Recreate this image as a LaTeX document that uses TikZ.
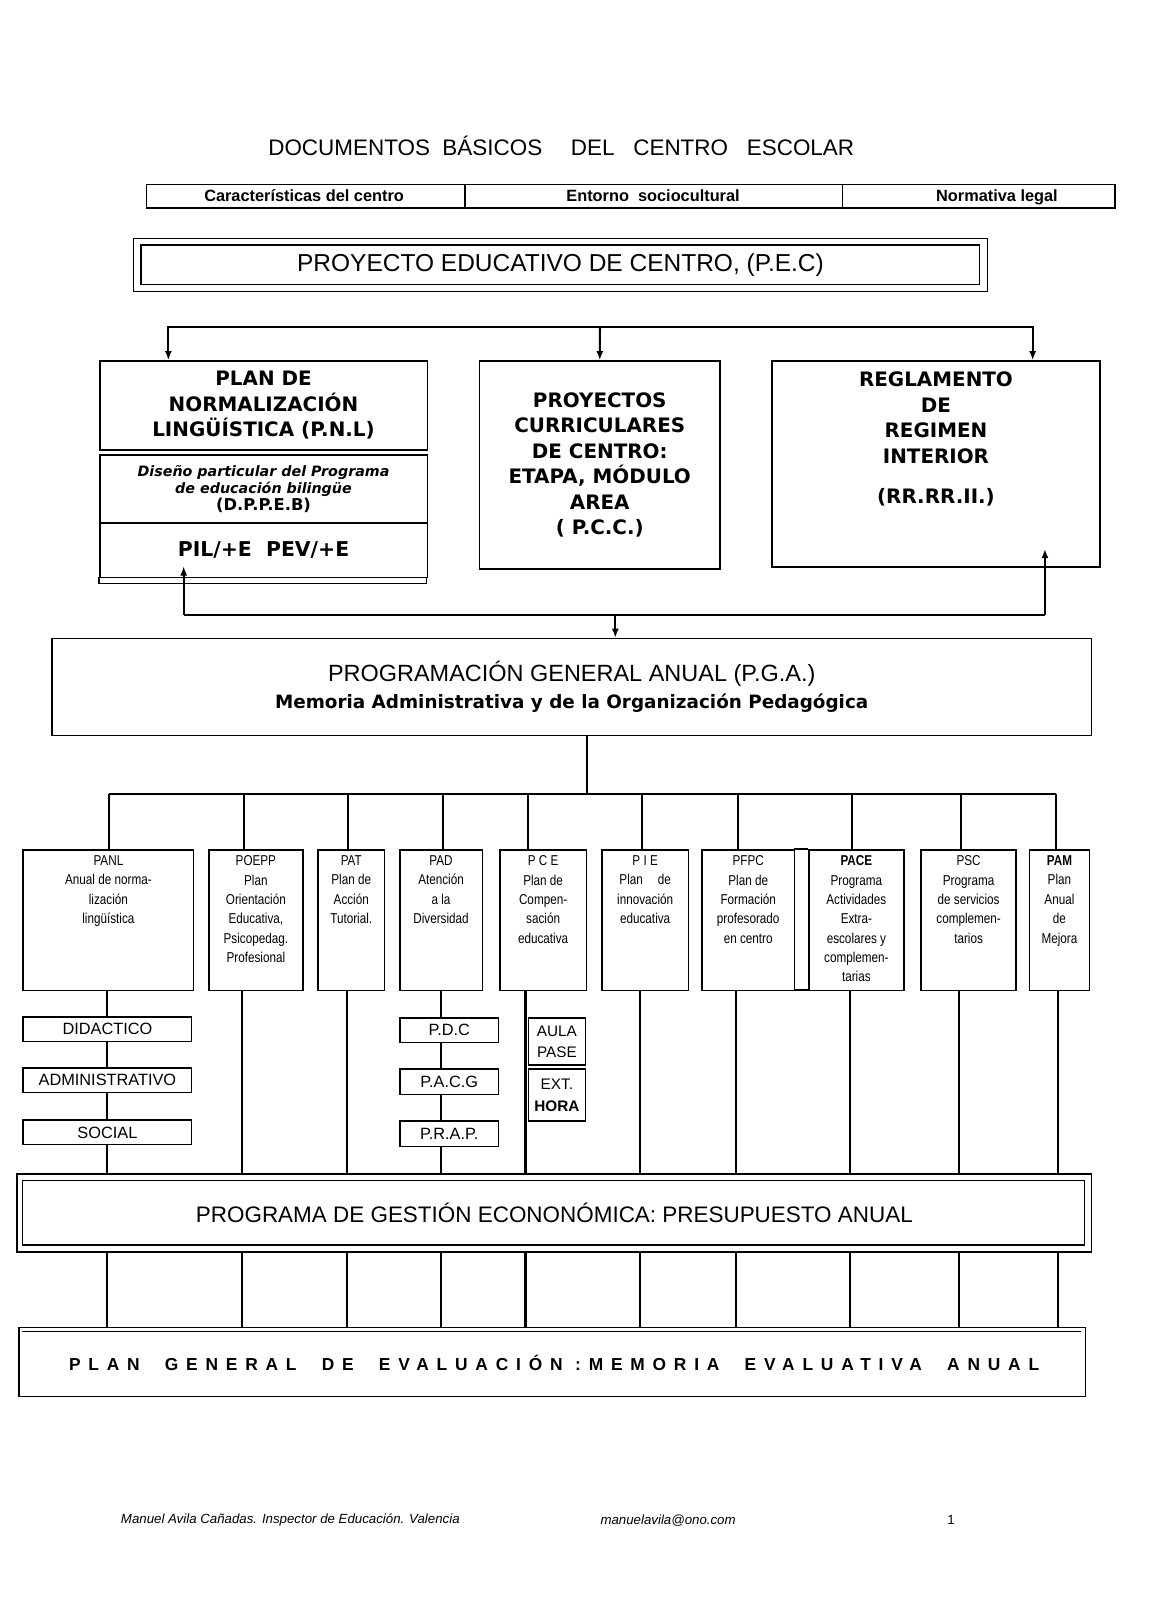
\documentclass[tikz,border=0pt]{standalone}
\usepackage{fontspec}
\setmainfont{Liberation Sans}
\newfontfamily\dv{DejaVu Sans}
\newfontfamily\lsp[LetterSpace=45]{Liberation Sans}
\newcommand{\bx}[5]{\node[box,minimum width={(#4-#2)*1pt},minimum height={(#5-#3)*1pt},anchor=north west] (#1) at (#2,-#3) {};}
\newcommand{\fs}[2]{\fontsize{#1}{#2}\selectfont}
\tikzset{box/.style={draw,fill=white,line width=1.5pt,inner sep=0pt},
 ln/.style={line width=2pt},
 arr/.style={line width=2pt,-{Latex[length=9pt,width=7pt]}},
 col/.style={align=center,anchor=north,xscale=0.82,font=\fs{14}{19}},
 sub/.style={font=\fs{16}{19}},
 big/.style={align=center,font=\dv\bfseries\fs{19.5}{25}},
 hdr/.style={font=\fs{16}{18}\bfseries,anchor=base}}
\usetikzlibrary{arrows.meta}
\begin{document}
\begin{tikzpicture}[x=1pt,y=1pt]
\useasboundingbox[fill=white] (0,0) rectangle (1141,-1568);
\node (title) at (550,-143) {\fs{22}{26}DOCUMENTOS\ \ BÁSICOS\quad\ DEL\ \ \ CENTRO\ \ \ ESCOLAR};
\bx{r1}{143}{180}{455}{203}\bx{r2}{455}{180}{825}{203}\bx{r3}{825}{180}{1092}{203}
\node[hdr] at (298,-197) {Características del centro};
\node[hdr] at (640,-197) {Entorno\ \ sociocultural};
\node[hdr] at (977,-197) {Normativa legal};
% PEC
\bx{pec}{130}{233}{967}{285}
\draw[line width=1.5pt] (138,-240) rectangle (960,-279);
\node[font=\fs{24}{28}] at (pec) {PROYECTO EDUCATIVO DE CENTRO, (P.E.C)};
\draw[ln] (165,-340) -- (165,-320) -- (1012,-320) -- (1012,-340);
\bx{pnl}{97}{353}{418}{440}\bx{dp}{97}{445}{418}{512}\bx{pil}{97}{512}{418}{565}
\draw[line width=1.5pt] (97,-565) -- (97,-572) -- (418,-572) -- (418,-565);
\bx{pcc}{469}{353}{705}{557}\bx{rri}{756}{353}{1077}{555}
\draw[arr] (165,-320) -- (pnl.north -| 165,0);
\draw[arr] (588,-320) -- (pcc.north);
\draw[arr] (1012,-320) -- (rri.north -| 1012,0);
\node[big] at (pnl) {PLAN DE\\NORMALIZACIÓN\\LINGÜÍSTICA (P.N.L)};
\node[align=center,font=\dv\bfseries\itshape\fs{14}{17}] at (dp) {Diseño particular del Programa\\de educación bilingüe\\\upshape\fs{16}{18}(D.P.P.E.B)};
\node[font=\dv\bfseries\fs{20}{22}] at (pil) {PIL/+E\ \ PEV/+E};
\node[big] at (pcc) {PROYECTOS\\CURRICULARES\\DE CENTRO:\\ETAPA, MÓDULO\\AREA\\( P.C.C.)};
\node[big,anchor=north] at ([yshift=-8pt]rri.north) {REGLAMENTO\\DE\\REGIMEN\\INTERIOR\\[14pt](RR.RR.II.)};
% PGA
\bx{pga}{50}{625}{1069}{720}
\coordinate (c1) at (180,-603); \coordinate (c2) at (1024,-603);
\draw[ln] (c1) -- (c2);
\draw[arr] (c1) -- (180,-555);
\draw[arr] (c2) -- (1024,-538);
\draw[arr] (603,-603) -- (pga.north -| 603,0);
\node[align=center,font=\fs{23}{27}] at (pga) {PROGRAMACIÓN GENERAL ANUAL (P.G.A.)\\\dv\bfseries\fs{18}{22}Memoria Administrativa y de la Organización Pedagógica};
\draw[ln] (pga.south -| 575,0) -- (575,-778);
\draw[ln] (107,-778) -- (1035,-778);
\foreach \x in {107,239,341,434,517,629,723,835,942,1035} \draw[ln] (\x,-778) -- (\x,-832);
\foreach \x in {105,237,340,432,515,627,721,833,940,1037} {
 \draw[ln] (\x,-970) -- (\x,-1150);
 \draw[ln] (\x,-1226) -- (\x,-1300);}
% columns
\bx{panl}{22}{832}{189}{970}\bx{poepp}{204}{832}{296}{970}\bx{pat}{311}{832}{376}{970}
\bx{pad}{391}{832}{472}{970}\bx{pce}{489}{832}{574}{970}\bx{pie}{589}{832}{674}{970}
\bx{pfpc}{687}{832}{778}{970}\bx{pace}{792}{832}{885}{970}\bx{psc}{902}{832}{995}{970}
\bx{pam}{1008}{832}{1067}{970}
\draw[line width=1.5pt] (778,-832) -- (792,-832) (778,-970)--(792,-970);
\node[col] at ([yshift=-3pt]panl.north) {PANL\\Anual de norma-\\lización\\lingüística};
\node[col] at ([yshift=-3pt]poepp.north) {POEPP\\Plan\\Orientación\\Educativa,\\Psicopedag.\\Profesional};
\node[col] at ([yshift=-3pt]pat.north) {PAT\\Plan de\\Acción\\Tutorial.};
\node[col] at ([yshift=-3pt]pad.north) {PAD\\Atención\\a la\\Diversidad};
\node[col] at ([yshift=-3pt]pce.north) {P C E\\Plan de\\Compen-\\sación\\educativa};
\node[col] at ([yshift=-3pt]pie.north) {P I E\\Plan\quad\ de\\innovación\\educativa};
\node[col] at ([yshift=-3pt]pfpc.north) {PFPC\\Plan de\\Formación\\profesorado\\en centro};
\node[col] at ([yshift=-3pt]pace.north) {\bfseries PACE\\Programa\\Actividades\\Extra-\\escolares y\\complemen-\\tarias};
\node[col] at ([yshift=-3pt]psc.north) {PSC\\Programa\\de servicios\\complemen-\\tarios};
\node[col] at ([yshift=-3pt]pam.north) {\bfseries PAM\\Plan\\Anual\\de\\Mejora};
% gestion
\bx{ges}{16}{1150}{1069}{1226}
\draw[line width=1.5pt] (22,-1157) rectangle (1063,-1220);
\node[font=\fs{22}{26}] at (ges) {PROGRAMA DE GESTIÓN ECONONÓMICA: PRESUPUESTO ANUAL};
% sub boxes
\bx{did}{22}{996}{187}{1020}\bx{adm}{22}{1046}{187}{1070}\bx{soc}{22}{1097}{187}{1121}
\node[sub] at (did) {DIDACTICO};\node[sub] at (adm) {ADMINISTRATIVO};\node[sub] at (soc) {SOCIAL};
\bx{pdc}{391}{997}{488}{1021}\bx{pacg}{391}{1047}{488}{1072}\bx{prap}{391}{1098}{488}{1123}
\node[sub] at (pdc) {P.D.C};\node[sub] at (pacg) {P.A.C.G};\node[sub] at (prap) {P.R.A.P.};
\bx{aula}{517}{997}{573}{1043}\bx{ext}{517}{1047}{573}{1098}
\node[align=center,font=\fs{15}{21}] at (aula) {AULA\\PASE};
\node[align=center,font=\fs{15}{21}] at (ext) {EXT.\\\bfseries HORA};
% evaluacion
\bx{eva}{18}{1300}{1063}{1368}
\draw[line width=1pt] (22,-1305) -- (1059,-1305);
\node[font=\lsp\bfseries\fs{17}{20}] at (543,-1336) {PLAN\ \ GENERAL\ \ DE\ \ EVALUACIÓN\ :MEMORIA\ \ EVALUATIVA\ \ ANUAL};
% footer
\node[anchor=west,font=\itshape\fs{13}{15}] (f1) at (115,-1490) {Manuel Avila Cañadas. Inspector de Educación. Valencia};
\node[anchor=west,font=\itshape\fs{13}{15}] (f2) at (585,-1490) {manuelavila@ono.com};
\node[font=\fs{13}{15}] (f3) at (932,-1490) {1};
\end{tikzpicture}
\end{document}
